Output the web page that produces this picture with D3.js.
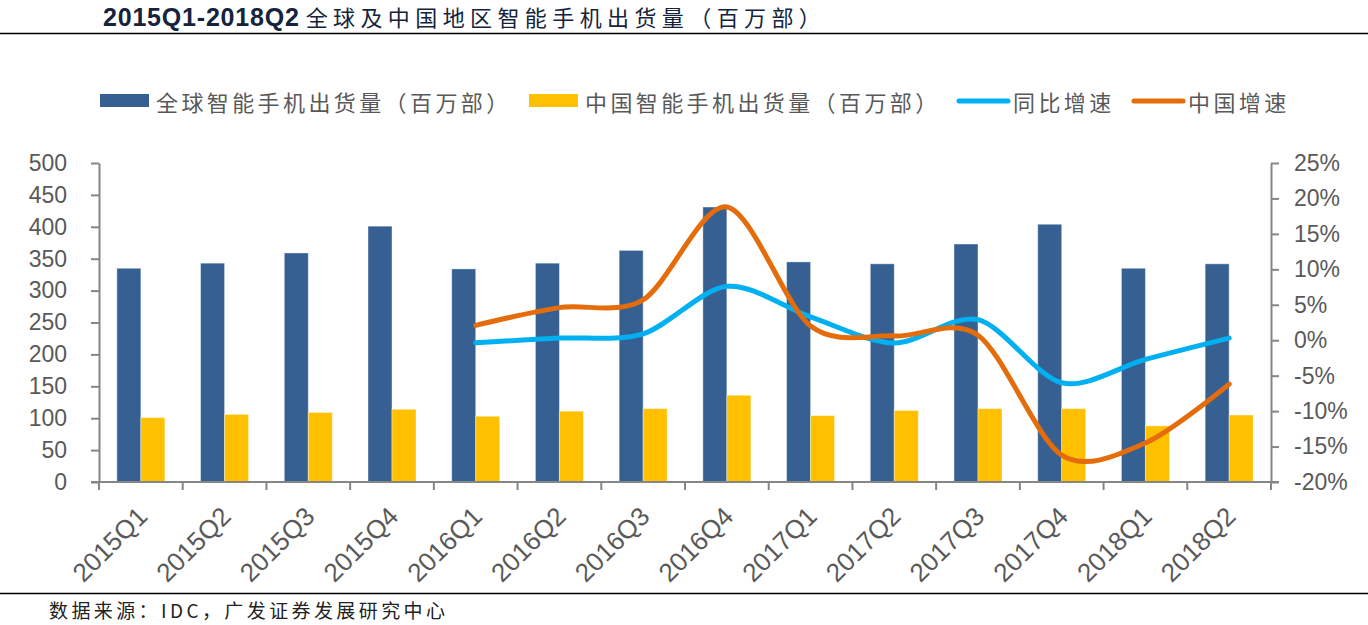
<!DOCTYPE html>
<html>
<head>
<meta charset="utf-8">
<script src="https://cdn.jsdelivr.net/npm/d3@7"></script>
<style>
  html, body { margin: 0; padding: 0; background: #fff; }
  svg { display: block; }
</style>
</head>
<body>
<svg id="chart"></svg>
<script>
// Données
const quarters = ["2015Q1", "2015Q2", "2015Q3", "2015Q4", "2016Q1", "2016Q2", "2016Q3",
  "2016Q4", "2017Q1", "2017Q2", "2017Q3", "2017Q4", "2018Q1", "2018Q2"];
const globalShip = [335, 343, 359, 401, 334, 343, 363, 431, 345, 342, 373, 404, 335, 342];
const chinaShip = [101, 106, 109, 114, 103, 111, 115, 136, 104, 112, 115, 115, 88, 105];
// croissance en %
const globalGrowth = [null, null, null, null, -0.35, 0.3, 0.9, 7.6, 3.3, -0.4, 2.9, -6.0, -2.7, 0.3];
const chinaGrowth = [null, null, null, null, 2.1, 4.6, 5.7, 18.8, 2.0, 0.6, 0.7, -16.2, -14.5, -6.2];
const leftTicks = [0, 50, 100, 150, 200, 250, 300, 350, 400, 450, 500];
const rightTicks = [-20, -15, -10, -5, 0, 5, 10, 15, 20, 25];

const width = 1368, height = 625;
const cjk = "'Noto Sans CJK SC', sans-serif";
const latin = "'Liberation Sans', Arial, sans-serif";
const textColor = "#595959";
const axisColor = "#868686";

const colors = {
  global: "#366092",
  china: "#FFC000",
  gGrowth: "#00B0F0",
  cGrowth: "#E46C0A"
};

const svg = d3.select("#chart").attr("width", width).attr("height", height);

const margin = { left: 99, right: 1271, top: 163, bottom: 482 };

// Echelles
const x = d3.scaleBand().domain(quarters).range([margin.left, margin.right]);
const yLeft = d3.scaleLinear().domain([0, 500]).range([margin.bottom, margin.top]);
const yRight = d3.scaleLinear().domain([-20, 25]).range([margin.bottom, margin.top]);
const barW = 24;

// Titre
const title = svg.append("text").attr("x", 103).attr("y", 26).attr("fill", "#14243C");
title.append("tspan")
  .attr("font-family", latin).attr("font-weight", "bold").attr("font-size", "25px")
  .attr("letter-spacing", "0.8px")
  .text("2015Q1-2018Q2");
title.append("tspan")
  .attr("dx", 6)
  .attr("font-family", cjk).attr("font-size", "22px").attr("letter-spacing", "5.4px")
  .text("全球及中国地区智能手机出货量（百万部）");

svg.append("line").attr("x1", 0).attr("x2", width).attr("y1", 33.5).attr("y2", 33.5)
  .attr("stroke", "#000").attr("stroke-width", 1.5);
svg.append("line").attr("x1", 0).attr("x2", width).attr("y1", 593.5).attr("y2", 593.5)
  .attr("stroke", "#000").attr("stroke-width", 1.5);

// Source
svg.append("text").attr("x", 49).attr("y", 618)
  .attr("font-family", cjk).attr("font-size", "19px").attr("letter-spacing", "3.4px")
  .attr("fill", "#222")
  .text("数据来源：IDC，广发证券发展研究中心");

// Légende
const legendItems = [
  { type: "rect", color: colors.global, x: 100, label: "全球智能手机出货量（百万部）" },
  { type: "rect", color: colors.china, x: 529, label: "中国智能手机出货量（百万部）" },
  { type: "line", color: colors.gGrowth, x: 957, label: "同比增速" },
  { type: "line", color: colors.cGrowth, x: 1132, label: "中国增速" }
];
const legend = svg.append("g").attr("class", "legend");
legendItems.forEach(d => {
  if (d.type === "rect") {
    legend.append("rect").attr("x", d.x).attr("y", 94).attr("width", 49).attr("height", 13)
      .attr("fill", d.color);
  } else {
    legend.append("line").attr("x1", d.x + 2).attr("x2", d.x + 51).attr("y1", 101).attr("y2", 101)
      .attr("stroke", d.color).attr("stroke-width", 5).attr("stroke-linecap", "round");
  }
  legend.append("text").attr("x", d.x + 56).attr("y", 101)
    .attr("dominant-baseline", "central")
    .attr("font-family", cjk).attr("font-size", "22px").attr("letter-spacing", "3.4px")
    .attr("fill", textColor)
    .text(d.label);
});

// Barres
const bars = svg.append("g");
bars.selectAll(".bar-global").data(quarters).join("rect")
  .attr("class", "bar-global")
  .attr("x", d => x(d) + x.bandwidth() / 2 - barW)
  .attr("y", (d, i) => yLeft(globalShip[i]))
  .attr("width", barW)
  .attr("height", (d, i) => yLeft(0) - yLeft(globalShip[i]))
  .attr("fill", colors.global)
  .attr("stroke", "#ffffff").attr("stroke-opacity", 0.4).attr("stroke-width", 1);
bars.selectAll(".bar-china").data(quarters).join("rect")
  .attr("class", "bar-china")
  .attr("x", d => x(d) + x.bandwidth() / 2)
  .attr("y", (d, i) => yLeft(chinaShip[i]))
  .attr("width", barW)
  .attr("height", (d, i) => yLeft(0) - yLeft(chinaShip[i]))
  .attr("fill", colors.china)
  .attr("stroke", "#ffffff").attr("stroke-opacity", 0.4).attr("stroke-width", 1);

// Axes
function styleAxis(g) {
  g.selectAll("path.domain").attr("stroke", axisColor).attr("stroke-width", 2);
  g.selectAll(".tick line").attr("stroke", axisColor).attr("stroke-width", 2);
  g.selectAll(".tick text").attr("fill", textColor).attr("font-family", latin).attr("font-size", "23px");
}

const axisLeft = svg.append("g").attr("transform", `translate(${margin.left},0)`)
  .call(d3.axisLeft(yLeft).tickValues(leftTicks).tickSize(8).tickSizeOuter(0).tickPadding(8));
styleAxis(axisLeft);
axisLeft.selectAll(".tick text").attr("dx", "-16px");

const axisRight = svg.append("g").attr("transform", `translate(${margin.right},0)`)
  .call(d3.axisRight(yRight).tickValues(rightTicks).tickSize(8).tickSizeOuter(0).tickPadding(15)
    .tickFormat(d => d + "%"));
styleAxis(axisRight);

// Axe des catégories : graduations aux limites des bandes
const bottom = svg.append("g").attr("transform", `translate(0,${margin.bottom})`);
bottom.append("line").attr("x1", margin.left - 8).attr("x2", margin.right + 8)
  .attr("stroke", axisColor).attr("stroke-width", 2);
const boundaries = quarters.map(q => x(q)).concat([margin.right]);
bottom.selectAll(".btick").data(boundaries).join("line")
  .attr("class", "btick")
  .attr("x1", d => d).attr("x2", d => d).attr("y1", 0).attr("y2", 8)
  .attr("stroke", axisColor).attr("stroke-width", 2);
bottom.selectAll(".blabel").data(quarters).join("text")
  .attr("class", "blabel")
  .attr("transform", d => `translate(${x(d) + x.bandwidth() / 2 + 8},36) rotate(-45)`)
  .attr("text-anchor", "end")
  .attr("fill", textColor).attr("font-family", latin).attr("font-size", "26px")
  .text(d => d);

// Courbes de croissance
const lineGen = d3.line()
  .defined(d => d.v !== null)
  .x(d => x(d.q) + x.bandwidth() / 2)
  .y(d => yRight(d.v))
  .curve(d3.curveCardinal.tension(0.1));

[[globalGrowth, colors.gGrowth], [chinaGrowth, colors.cGrowth]].forEach(([vals, c]) => {
  const pts = quarters.map((q, i) => ({ q: q, v: vals[i] })).filter(d => d.v !== null);
  svg.append("path").datum(pts)
    .attr("d", lineGen)
    .attr("fill", "none")
    .attr("stroke", c).attr("stroke-width", 5)
    .attr("stroke-linecap", "round").attr("stroke-linejoin", "round");
});
</script>
</body>
</html>
